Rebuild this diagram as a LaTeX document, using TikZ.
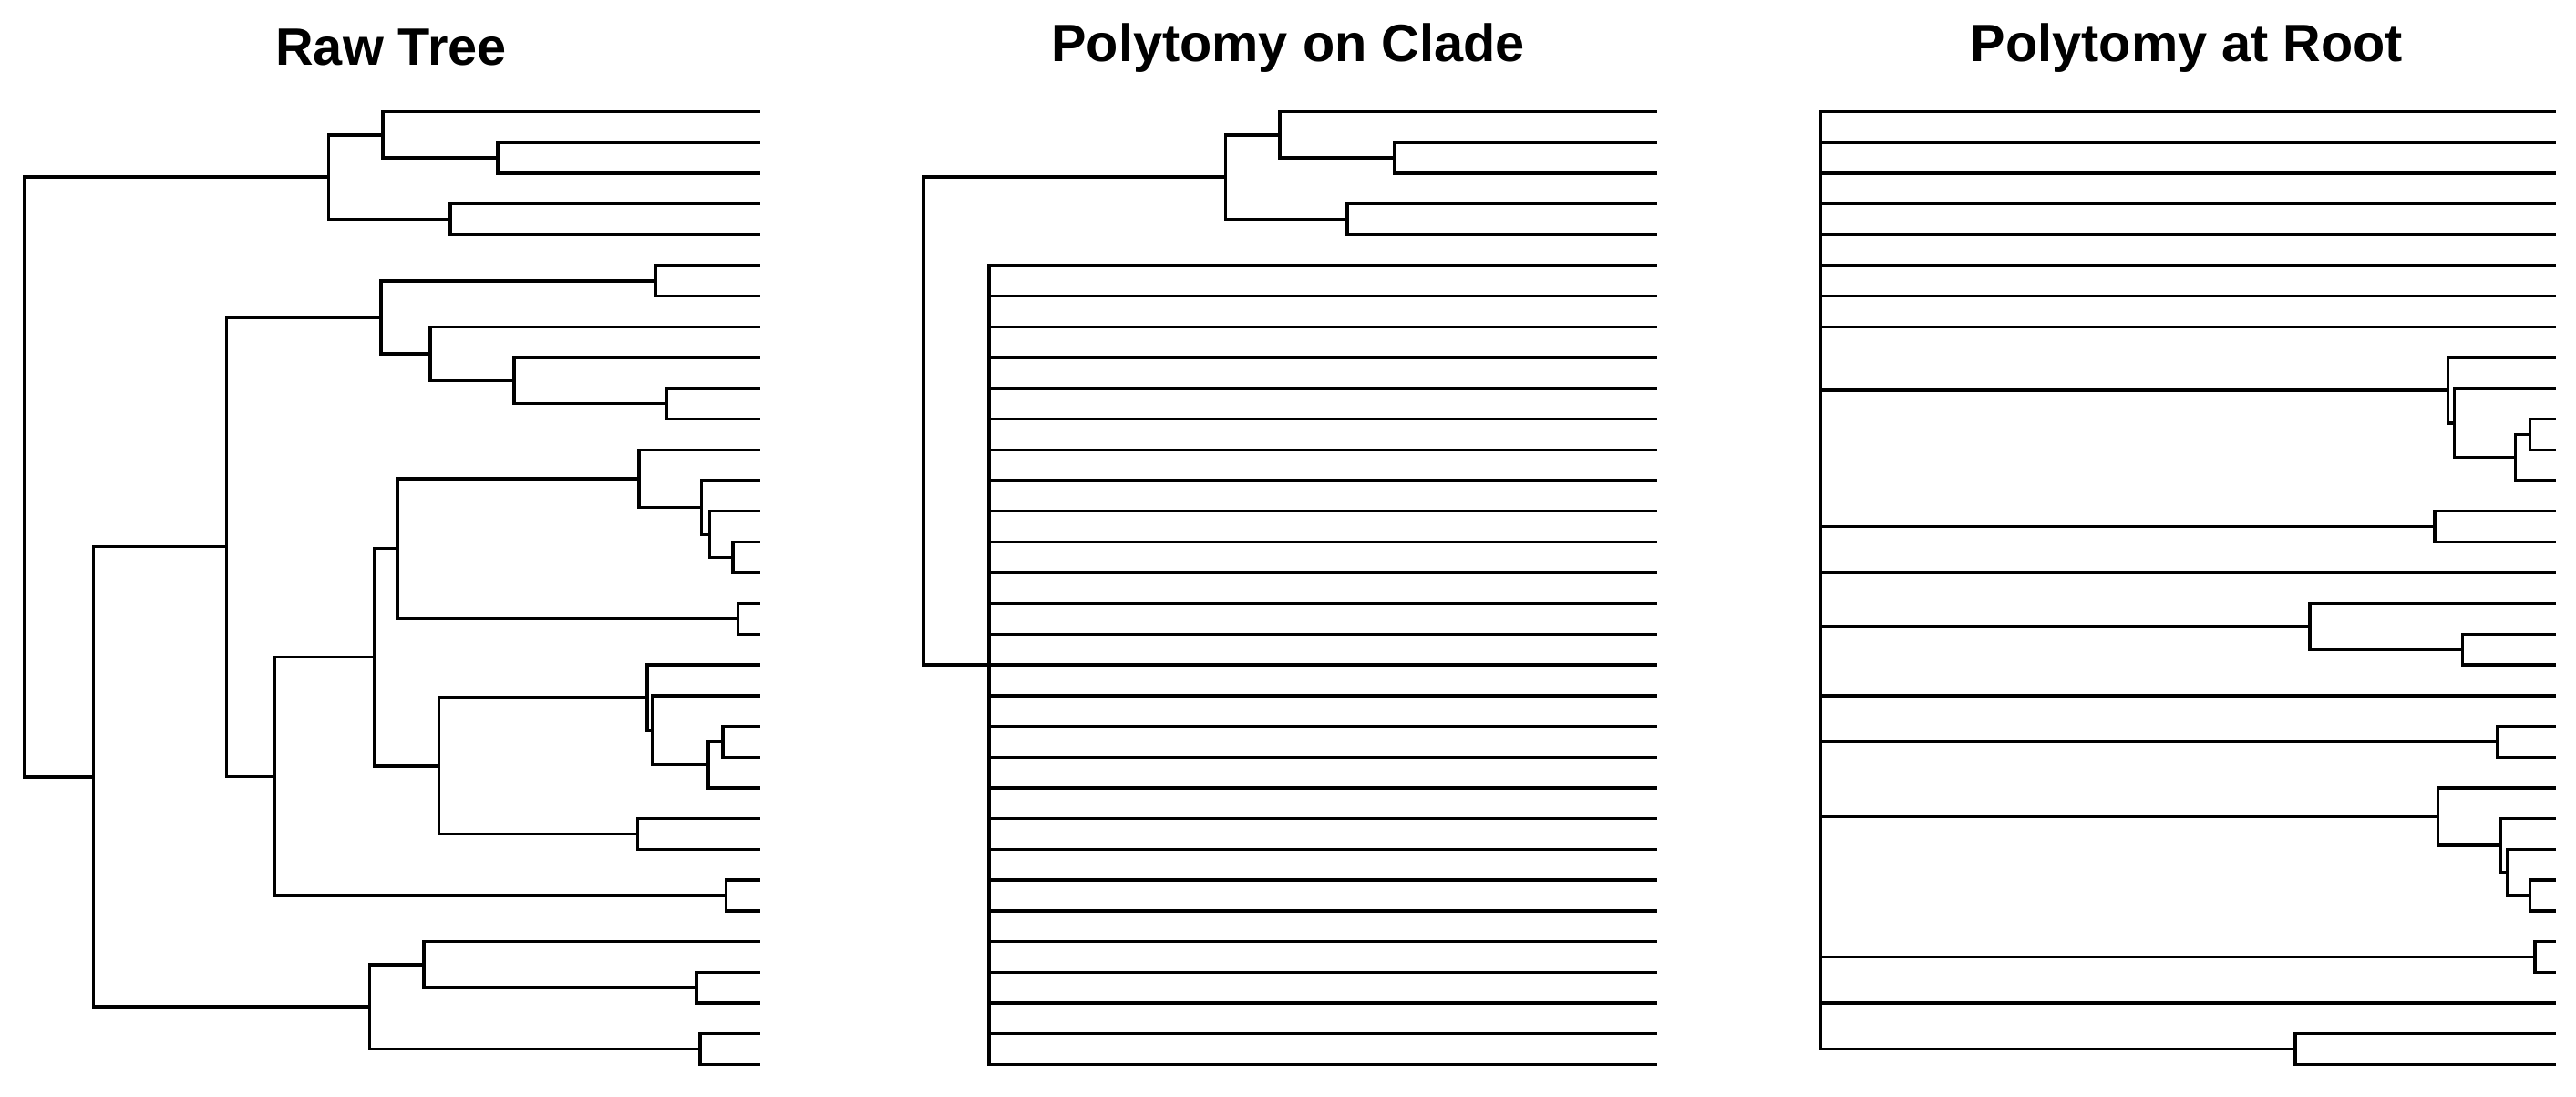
\documentclass[tikz,border=0pt]{standalone}
\usepackage{fontspec}
\setmainfont{Liberation Sans}
\usetikzlibrary{calc}
\newcommand\cl[4]{\path let \p1=($(#3)!.5!(#4)$) in coordinate (#1) at (#2,\y1);
  \draw[br] (#3) -- (#3 -| #1) -- (#4 -| #1) -- (#4);}
\begin{document}
\begin{tikzpicture}[x=0.5pt,y=-0.5pt,
  br/.style={line width=0.95pt,line cap=rect,line join=miter},
  ttl/.style={font=\bfseries\fontsize{16}{18}\selectfont,inner sep=0pt}]
\useasboundingbox[fill=white] (0,0) rectangle (1568,667);
\node[ttl] (t1) at (238,29) {Raw Tree};
\node[ttl] (t2) at (784,29) {Polytomy on Clade};
\node[ttl] (t3) at (1331,29) {Polytomy at Root};
\foreach \i in {0,...,31}{
  \coordinate (a\i) at (462,{68+18.7*\i});
  \coordinate (b\i) at (1008,{68+18.7*\i});
  \coordinate (c\i) at (1555,{68+18.7*\i});}
% Raw tree
\cl{a303}{303}{a1}{a2}
\cl{a233}{233}{a0}{a303}
\cl{a274}{274}{a3}{a4}
\cl{aA}{200}{a233}{a274}
\cl{a399}{399}{a5}{a6}
\cl{a406}{406}{a9}{a10}
\cl{a313}{313}{a8}{a406}
\cl{a262}{262}{a7}{a313}
\cl{a232}{232}{a399}{a262}
\cl{a446}{446}{a14}{a15}
\cl{a432}{432}{a13}{a446}
\cl{a427}{427}{a12}{a432}
\cl{a389}{389}{a11}{a427}
\cl{a449}{449}{a16}{a17}
\cl{a242}{242}{a389}{a449}
\cl{a440}{440}{a20}{a21}
\cl{a431}{431}{a440}{a22}
\cl{a397}{397}{a19}{a431}
\cl{a394}{394}{a18}{a397}
\cl{a388}{388}{a23}{a24}
\cl{a267}{267}{a394}{a388}
\cl{a228}{228}{a242}{a267}
\cl{a442}{442}{a25}{a26}
\cl{a167}{167}{a228}{a442}
\cl{a138}{138}{a232}{a167}
\cl{a424}{424}{a28}{a29}
\cl{a258}{258}{a27}{a424}
\cl{a426}{426}{a30}{a31}
\cl{a225}{225}{a258}{a426}
\cl{a57}{57}{a138}{a225}
\cl{aR}{15}{aA}{a57}
% Polytomy on clade
\cl{b849}{849}{b1}{b2}
\cl{b779}{779}{b0}{b849}
\cl{b820}{820}{b3}{b4}
\cl{bA}{746}{b779}{b820}
\path let \p1=($(b5)!.5!(b31)$) in coordinate (bP) at (602,\y1);
\draw[br] (b5 -| bP) -- (b31 -| bP);
\foreach \i in {5,...,31} \draw[br] (b\i -| bP) -- (b\i);
\cl{bR}{562}{bA}{bP}
% Polytomy at root
\cl{c1540}{1540}{c10}{c11}
\cl{c1531}{1531}{c1540}{c12}
\cl{c1496}{1494}{c9}{c1531}
\cl{c1493}{1490}{c8}{c1496}
\cl{c1486}{1482}{c13}{c14}
\cl{c1504}{1499}{c17}{c18}
\cl{c1410}{1406}{c16}{c1504}
\cl{c1524}{1520}{c20}{c21}
\cl{c1544}{1540}{c25}{c26}
\cl{c1530}{1526}{c24}{c1544}
\cl{c1526}{1522}{c23}{c1530}
\cl{c1488}{1484}{c22}{c1526}
\cl{c1546}{1543}{c27}{c28}
\cl{c1400}{1397}{c30}{c31}
\coordinate (cR) at (1108,0);
\draw[br] (c0 -| cR) -- (c1400 -| cR);
\foreach \n in {c0,c1,c2,c3,c4,c5,c6,c7,c1493,c1486,c15,c1410,c19,c1524,c1488,c1546,c29,c1400}
  \draw[br] (\n -| cR) -- (\n);
\end{tikzpicture}
\end{document}
